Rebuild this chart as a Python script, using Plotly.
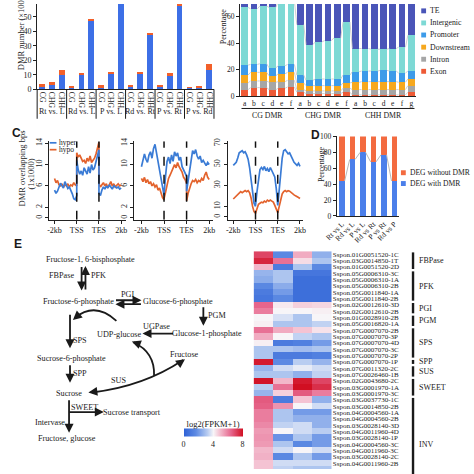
import numpy as np
import plotly.graph_objects as go

W = H = 474
SERIF = "Liberation Serif"
SANS = "Liberation Sans"
INK = "#1a1a1a"

# ---------------- Panel A data ----------------
a_groups = ["Rt vs. L", "Rd vs. L", "P vs. L", "Rd vs. Rt", "P vs. Rt", "P vs. Rd"]
a_contexts = ["CG", "CHG", "CHH"]
a_blue = [1.5, 2.8, 10.0, 1.0, 9.6, 47.4, 1.5, 10.4, 63.0, 2.0, 10.4, 37.4, 2.0, 9.0, 57.5, 1.0, 1.2, 13.6]
a_orange = [1.9, 2.4, 3.4, 1.0, 1.8, 1.2, 1.2, 1.8, 1.0, 1.2, 1.4, 1.6, 1.3, 2.2, 1.5, 0.6, 0.8, 3.8]

# ---------------- Panel B data ----------------
b_groups = ["CG DMR", "CHG DMR", "CHH DMR"]
b_letters = [list("abcdef"), list("abcdef"), list("abcdefg")]
b_exon = [5, 6.5, 6.5, 5, 6, 7, 3, 2, 2, 2, 2, 3, 1, 1, 1, 1, 1, 1, 3]
b_intron = [5, 5, 5, 5.5, 5, 5, 2, 2, 2, 2, 2, 3, 4, 4, 4, 4, 4, 4, 5]
b_downstream = [6, 6.5, 6.5, 5, 6, 6, 5, 4, 4, 4, 4, 4, 5.5, 6, 6, 6, 6, 5.5, 5]
b_promoter = [7.5, 6, 6.5, 6, 6, 6, 6, 4, 5, 5, 5, 6, 8, 8, 8, 8.5, 8, 7, 6]
b_intergenic = [43.5, 42, 43.5, 45.5, 49, 48, 38, 27, 28, 29, 31, 40, 17.5, 17, 16.5, 16, 17, 19.5, 27]
b_te = [33, 34, 32, 33, 28, 28, 46, 61, 59, 58, 56, 44, 64, 64, 64.5, 64.5, 64, 63, 54]
b_names = ["Exon", "Intron", "Downstream", "Promoter", "Intergenic", "TE"]

# ---------------- Panel C data ----------------
c_ticks = ["-2kb", "TSS", "TES", "2kb"]
c1_hyper_up = [5.2, 4.6, 5.0, 5.8, 6.5, 6.0, 5.6, 6.8, 6.2, 5.5, 5.8, 5.2, 4.5, 3.6, 3.4, 4.2]
c1_hyper_body = [10.8, 9.0, 8.2, 8.8, 8.0, 9.4, 8.6, 8.2, 9.6, 8.4, 10.0, 9.0, 9.4, 10.6, 11.8, 12.8]
c1_hyper_down = [4.6, 4.2, 5.2, 5.8, 5.4, 6.0, 5.6, 6.2, 5.8, 5.4, 6.0, 5.8, 5.6, 5.8, 5.4, 5.6]
c1_hypo_up = [7.4, 6.6, 7.0, 6.2, 6.0, 6.4, 5.8, 6.2, 6.0, 6.4, 5.8, 6.2, 6.0, 6.6, 6.2, 6.0]
c1_hypo_body = [12.2, 11.4, 11.8, 11.0, 10.6, 10.8, 10.2, 11.2, 10.6, 11.6, 10.4, 10.8, 11.2, 12.0, 13.4, 14.2]
c1_hypo_down = [6.4, 5.8, 6.2, 6.6, 6.0, 6.4, 5.6, 6.2, 6.8, 6.0, 6.4, 5.8, 6.2, 6.4, 6.0, 6.2]

c2_hyper_up = [9.6, 11.2, 12.0, 11.0, 10.4, 11.8, 12.4, 11.2, 13.0, 13.8, 12.2, 10.4, 8.6, 6.8, 5.2, 4.2]
c2_hyper_body = [4.4, 7.8, 10.6, 11.4, 10.2, 11.8, 10.6, 12.4, 11.6, 12.2, 10.8, 11.4, 9.6, 9.0, 8.4, 7.8]
c2_hyper_down = [5.0, 7.0, 9.6, 11.4, 12.6, 12.0, 12.8, 11.6, 11.0, 11.6, 10.4, 10.8, 10.2, 9.8, 10.4, 10.0]
c2_hypo_up = [7.4, 6.8, 7.6, 6.6, 7.2, 6.4, 6.8, 6.0, 6.4, 5.8, 6.2, 5.2, 5.6, 4.6, 3.8, 3.4]
c2_hypo_body = [3.6, 4.8, 6.2, 7.4, 8.0, 8.8, 9.2, 10.0, 9.4, 10.4, 9.6, 9.0, 8.6, 7.6, 7.2, 6.4]
c2_hypo_down = [3.2, 4.6, 5.6, 6.4, 7.0, 6.8, 7.2, 6.6, 7.0, 6.8, 7.4, 7.0, 8.0, 8.6, 7.6, 7.2]

c3_hyper_up = [49, 50.5, 52, 56, 61, 62, 63, 61, 62, 59, 55, 47, 35, 22, 13, 10]
c3_hyper_body = [11, 24, 38, 45, 47, 45, 48, 44, 46, 43, 47, 44, 42, 38, 27, 13]
c3_hyper_down = [11, 26, 43, 56, 63, 64, 62, 60, 61, 57, 55, 52, 50, 49, 51, 48]
c3_hypo_up = [17, 18.5, 20, 22, 23, 24, 23, 24.5, 25, 24, 25, 23, 18, 10, 5, 3.5]
c3_hypo_body = [3.5, 8, 12, 13, 14, 13.5, 15, 14, 16, 15, 16, 15, 14, 11, 7, 4.5]
c3_hypo_down = [4, 10, 18, 22, 24, 25, 24, 25, 24.5, 23, 22, 21, 20, 19.5, 18.5, 17.5]

# ---------------- Panel D data ----------------
d_labels = ["Rt vs L", "Rd vs L", "P vs L", "Rd vs Rt", "P vs Rt", "Rd vs P"]
d_with = [44, 71, 80, 68, 77, 44]
d_without = [56, 29, 20, 32, 23, 56]

# ---------------- Panel E data ----------------
e_genes = [
    "Sspon.01G0051520-1C", "Sspon.03G0014850-1T", "Sspon.01G0051520-2D",
    "Sspon.05G0006310-3C", "Sspon.05G0006310-1A", "Sspon.05G0006310-2B",
    "Sspon.05G0011840-1A", "Sspon.05G0011840-2B", "Sspon.02G0012610-3D",
    "Sspon.02G0012610-2B", "Sspon.01G0028910-2B", "Sspon.05G0016820-1A",
    "Sspon.07G0007070-2B", "Sspon.07G0007070-3P", "Sspon.07G0007070-4D",
    "Sspon.07G0007070-3C", "Sspon.07G0007070-2P", "Sspon.07G0007070-1P",
    "Sspon.07G0011320-2C", "Sspon.07G0026460-1B", "Sspon.02G0043680-2C",
    "Sspon.03G0001970-1A", "Sspon.03G0001970-3C", "Sspon.03G0037730-1C",
    "Sspon.03G0014850-2B", "Sspon.04G0004560-1A", "Sspon.04G0004560-2B",
    "Sspon.03G0028140-3D", "Sspon.04G0011960-4D", "Sspon.03G0028140-1P",
    "Sspon.04G0004560-3C", "Sspon.04G0011960-3C", "Sspon.03G0028140-2C",
    "Sspon.04G0011960-2B", "Sspon.01G0011110-3B",
]
e_values = [
    [7.0, 1.5, 5.2, 2.5], [7.6, 6.2, 4.4, 3.0], [5.0, 1.0, 3.0, 1.5],
    [2.6, 3.0, 0.8, 0.8], [2.4, 3.0, 0.5, 0.5], [1.5, 2.4, 0.5, 0.5],
    [1.0, 2.0, 0.5, 0.5], [0.8, 1.5, 0.5, 0.5], [6.4, 4.2, 4.6, 4.5],
    [6.0, 4.0, 4.0, 4.1], [4.0, 3.6, 3.0, 4.0], [4.1, 3.0, 3.0, 3.3],
    [6.2, 5.2, 4.8, 4.3], [5.2, 4.0, 3.3, 3.0], [4.1, 1.0, 1.2, 2.0],
    [3.0, 3.0, 2.8, 3.0], [3.0, 1.0, 1.0, 1.2], [7.8, 1.6, 3.2, 2.6],
    [2.6, 3.5, 3.8, 3.5], [3.0, 3.0, 2.5, 3.3], [7.9, 5.0, 7.8, 7.0],
    [3.2, 6.2, 8.0, 7.4], [2.6, 4.6, 6.6, 6.0], [6.6, 1.0, 4.8, 2.5],
    [6.5, 5.6, 4.0, 3.5], [6.0, 3.0, 2.0, 2.0], [6.0, 3.0, 2.5, 2.5],
    [5.8, 3.3, 3.5, 2.5], [5.5, 4.0, 3.5, 3.2], [5.6, 1.8, 3.0, 2.0],
    [5.5, 3.0, 1.5, 2.0], [5.0, 3.5, 4.0, 3.5], [5.1, 1.5, 3.0, 2.0],
    [4.8, 3.5, 3.5, 3.5], [4.8, 3.3, 3.0, 3.0],
]
e_families = [("FBPase", 0, 2), ("PFK", 3, 7), ("PGI", 8, 9), ("PGM", 10, 11),
              ("SPS", 12, 16), ("SPP", 17, 17), ("SUS", 18, 19),
              ("SWEET", 20, 22), ("INV", 23, 37)]

# ---------------- styles ----------------
A_BLUE, A_ORANGE = "#3d6fe6", "#f2602a"
B_COLORS = ["#ee5a36", "#a6a6a6", "#f6a81e", "#3d9be9", "#7dd9d5", "#4a55b8"]
C_BLUE, C_ORANGE = "#3a7bd5", "#e3632d"
D_ORANGE, D_BLUE = "#f36b40", "#4b7fea"


def X(p):
    return p / W


def Y(p):
    return 1 - p / H


fig = go.Figure()

# ---- Panel A ----
a_x = list(range(len(a_blue)))
fig.add_bar(x=a_x, y=a_blue, width=0.58, marker=dict(color=A_BLUE, line_width=0),
            xaxis="x", yaxis="y", name="blue")
fig.add_bar(x=a_x, y=a_orange, width=0.58, marker=dict(color=A_ORANGE, line_width=0),
            xaxis="x", yaxis="y", name="orange")

# ---- Panel B ----
b_x = list(range(len(b_exon)))
b_series = [b_exon, b_intron, b_downstream, b_promoter, b_intergenic, b_te]
for name, vals, col in zip(b_names, b_series, B_COLORS):
    fig.add_bar(x=b_x, y=vals, width=0.74, name=name,
                marker=dict(color=col, line_width=0), xaxis="x2", yaxis="y2")
cum = np.cumsum(np.array(b_series[:5], dtype=float), axis=0)
for lvl in range(cum.shape[0]):
    lx, ly = [], []
    for i in range(len(b_x) - 1):
        lx += [b_x[i] + 0.37, b_x[i + 1] - 0.37, None]
        ly += [cum[lvl, i], cum[lvl, i + 1], None]
    fig.add_scatter(x=lx, y=ly, mode="lines", line=dict(color="#c4c4c4", width=0.8),
                    xaxis="x2", yaxis="y2", hoverinfo="skip")

# ---- Panel C ----
xu = np.linspace(0, 1, 16)
xb = np.linspace(1, 2, 16)
xd = np.linspace(2, 3, 16)
cx = np.concatenate([xu, xb, xd])
c_sets = [
    (c1_hyper_up + c1_hyper_body + c1_hyper_down, c1_hypo_up + c1_hypo_body + c1_hypo_down),
    (c2_hyper_up + c2_hyper_body + c2_hyper_down, c2_hypo_up + c2_hypo_body + c2_hypo_down),
    (c3_hyper_up + c3_hyper_body + c3_hyper_down, c3_hypo_up + c3_hypo_body + c3_hypo_down),
]
for k, (hyper, hypo) in enumerate(c_sets):
    ax_id = str(k + 3)
    fig.add_scatter(x=cx, y=hypo, mode="lines", name="hypo",
                    line=dict(color=C_ORANGE, width=1.7), xaxis="x" + ax_id, yaxis="y" + ax_id)
    fig.add_scatter(x=cx, y=hyper, mode="lines", name="hyper",
                    line=dict(color=C_BLUE, width=1.7), xaxis="x" + ax_id, yaxis="y" + ax_id)

# ---- Panel D ----
d_x = list(range(len(d_labels)))
fig.add_bar(x=d_x, y=d_with, width=0.52, name="DEG with DMR",
            marker=dict(color=D_BLUE, line_width=0), xaxis="x6", yaxis="y6")
fig.add_bar(x=d_x, y=d_without, width=0.52, name="DEG without DMR",
            marker=dict(color=D_ORANGE, line_width=0), xaxis="x6", yaxis="y6")
dlx, dly = [], []
for i in range(len(d_x) - 1):
    dlx += [d_x[i] + 0.26, d_x[i + 1] - 0.26, None]
    dly += [d_with[i], d_with[i + 1], None]
fig.add_scatter(x=dlx, y=dly, mode="lines", line=dict(color="#b8b8b8", width=1),
                xaxis="x6", yaxis="y6", hoverinfo="skip")

# ---- Panel E heatmap ----
E_TOP, ROW_H = 252, 6.45
cs = [[0, "#2f62d6"], [0.2, "#5d8ae3"], [0.4, "#b9cdf1"], [0.5, "#f7f5f8"],
      [0.6, "#f4c3d3"], [0.8, "#e6658c"], [1, "#d10f22"]]
fig.add_heatmap(z=e_values, x=[0, 1, 2, 3], y=list(range(len(e_genes))),
                colorscale=cs, zmin=0, zmax=8, xaxis="x7", yaxis="y7",
                colorbar=dict(orientation="h", x=X(207), xanchor="center", y=Y(436),
                              yanchor="middle", len=59, lenmode="pixels", thickness=8,
                              xpad=0, ypad=0, outlinewidth=0, tickvals=[0, 4, 8],
                              ticks="", tickfont=dict(family=SERIF, size=8, color=INK),
                              title=dict(text="log2(FPKM+1)", side="top",
                                         font=dict(family=SERIF, size=8.5, color=INK))))

# ---------------- axes ----------------
base = dict(showgrid=False, zeroline=False, showline=True, linecolor="#222", linewidth=1,
            tickfont=dict(family=SERIF, size=8, color=INK), ticks="outside",
            ticklen=3, tickcolor="#222", tickwidth=1)


def ax(**kw):
    d = dict(base)
    d.update(kw)
    return d


C_Y = [Y(220), Y(140)]
fig.update_layout(
    xaxis=ax(domain=[X(25), X(208)], anchor="y", range=[-0.5, 17.5], tickvals=a_x,
             ticktext=a_contexts * len(a_groups), tickangle=90, ticks="",
             ticklabelstandoff=0,
             tickfont=dict(family=SERIF, size=7.6, color=INK)),
    yaxis=ax(domain=[Y(87), 1], anchor="x", range=[0, 58.8], tickvals=[0, 10, 20, 30, 40, 50]),
    xaxis2=ax(domain=[X(235), X(417)], anchor="y2", range=[-0.5, 18.5], tickvals=b_x,
              ticktext=sum(b_letters, []), tickangle=0, ticks="",
              tickfont=dict(family=SERIF, size=7.5, color=INK)),
    yaxis2=ax(domain=[Y(94), 1], anchor="x2", range=[0, 69.6], tickvals=[0, 20, 40, 60],
              tickfont=dict(family=SERIF, size=7.5, color=INK)),
    xaxis3=ax(domain=[X(37), X(117)], anchor="y3", range=[-0.26, 3.22], tickvals=[0, 1, 2, 3], ticktext=c_ticks),
    yaxis3=ax(domain=C_Y, anchor="x3", range=[-0.37, 14.36], tickvals=[0, 2, 6, 10, 14], tickangle=-90),
    xaxis4=ax(domain=[X(125), X(207)], anchor="y4", range=[-0.34, 3.17], tickvals=[0, 1, 2, 3], ticktext=c_ticks),
    yaxis4=ax(domain=C_Y, anchor="x4", range=[-0.37, 14.36], tickvals=[0, 2, 6, 10, 14], tickangle=-90),
    xaxis5=ax(domain=[X(222), X(300)], anchor="y5", range=[-0.26, 3.13], tickvals=[0, 1, 2, 3], ticktext=c_ticks),
    yaxis5=ax(domain=C_Y, anchor="x5", range=[-2.8, 71.9], tickvals=[0, 10, 30, 50, 70], tickangle=-90),
    xaxis6=ax(domain=[X(335), X(400)], anchor="y6", range=[-0.5, 5.5], tickvals=d_x,
              ticktext=d_labels, tickangle=-45, ticks="",
              tickfont=dict(family=SERIF, size=7.5, color=INK)),
    yaxis6=ax(domain=[Y(216), Y(135)], anchor="x6", range=[0, 100],
              tickvals=[0, 20, 40, 60, 80, 100], tickfont=dict(family=SERIF, size=7.5, color=INK)),
    xaxis7=dict(domain=[X(249), X(330)], anchor="y7", range=[-0.5, 3.5], showticklabels=False,
                showline=False, showgrid=False, zeroline=False, ticks=""),
    yaxis7=dict(domain=[0, Y(E_TOP)], anchor="x7", side="right",
                range=[(H - E_TOP) / ROW_H - 0.5, -0.5],
                tickvals=list(range(len(e_genes))), ticktext=e_genes, ticks="",
                showline=False, showgrid=False, zeroline=False,
                tickfont=dict(family=SERIF, size=7.0, color=INK)),
)

# ---------------- shapes & annotations ----------------
shapes, annos = [], []


def txt(x, y, s, size=8, anchor="center", angle=0, family=SERIF, bold=False, color=INK):
    annos.append(dict(x=X(x), y=Y(y), xref="paper", yref="paper", text=("<b>%s</b>" % s if bold else s),
                      showarrow=False, xanchor=anchor, yanchor="middle", textangle=angle,
                      font=dict(family=family, size=size, color=color)))


def arrow(hx, hy, tx, ty, w=1.8):
    annos.append(dict(x=X(hx), y=Y(hy), xref="paper", yref="paper", text="",
                      showarrow=True, axref="pixel", ayref="pixel", ax=tx - hx, ay=ty - hy,
                      arrowhead=2, arrowsize=1, arrowwidth=w, arrowcolor=INK,
                      standoff=0, startstandoff=0))


def line(x0, y0, x1, y1, color=INK, width=1, dash=None):
    shapes.append(dict(type="line", xref="paper", yref="paper", x0=X(x0), y0=Y(y0),
                       x1=X(x1), y1=Y(y1), line=dict(color=color, width=width, dash=dash)))


def curve(x0, y0, cxp, cyp, x1, y1, width=1.8):
    shapes.append(dict(type="path", xref="paper", yref="paper",
                       path="M %f,%f Q %f,%f %f,%f" % (X(x0), Y(y0), X(cxp), Y(cyp), X(x1), Y(y1)),
                       line=dict(color=INK, width=width)))


# Panel A: group labels & separators
A_L, A_R = 25, 208
a_step = (A_R - A_L) / len(a_blue)
for g, name in enumerate(a_groups):
    n = len(a_contexts)
    txt(A_L + (g * n + n / 2) * a_step, 110, name, size=8)
for g in range(len(a_groups) + 1):
    xs = A_L + g * len(a_contexts) * a_step
    line(xs, 87, xs, 117, width=1)
txt(9, 28, "DMR number (×1000)", size=8.5, angle=-90)

# Panel B: group labels, group lines, legend
B_L, B_R = 235, 417
b_step = (B_R - B_L) / len(b_x)
start = 0
for name, lets in zip(b_groups, b_letters):
    n = len(lets)
    txt(B_L + (start + n / 2) * b_step, 113.5, name, size=7.8)
    line(B_L + start * b_step + 1.5, 106.5, B_L + (start + n) * b_step - 1.5, 106.5, width=1)
    start += n
txt(218, 23, "Percentage", size=8, angle=-90)
leg_y = [7, 19.3, 31.6, 44, 56.3, 68.6]
for (name, col), yy in zip(list(zip(b_names, B_COLORS))[::-1], leg_y):
    shapes.append(dict(type="rect", xref="paper", yref="paper", x0=X(422.5), x1=X(427.5),
                       y0=Y(yy + 2.5), y1=Y(yy - 2.5), fillcolor=col, line_width=0))
    txt(430, yy, name, size=7.8, anchor="left")

# Panel C: dashed lines, legend, titles
c_ranges = [(-0.37, 14.36), (-0.37, 14.36), (-2.8, 71.9)]
for k, (y0, y1) in enumerate(c_ranges):
    for xv in (1, 2):
        shapes.append(dict(type="line", xref="x%d" % (k + 3), yref="y%d" % (k + 3),
                           x0=xv, x1=xv, y0=y0, y1=y1,
                           line=dict(color="#111", width=1.5, dash="dash")))
line(38, 141.5, 45, 141.5, color=C_BLUE, width=1.7)
line(38, 148.5, 45, 148.5, color=C_ORANGE, width=1.7)
txt(45.5, 141, "hyper", size=7.5, anchor="left")
txt(45.5, 148, "hypo", size=7.5, anchor="left")
txt(9, 168, "DMR overlapping bps", size=8.5, angle=-90)
txt(18.5, 173, "(1x1000)", size=8.5, angle=-90)

# Panel D legend & title
txt(320, 163, "Percentage", size=8, angle=-90)
for name, col, yy in [("DEG without DMR", D_ORANGE, 172), ("DEG with DMR", D_BLUE, 183)]:
    shapes.append(dict(type="rect", xref="paper", yref="paper", x0=X(401.5), x1=X(406.5),
                       y0=Y(yy + 2.5), y1=Y(yy - 2.5), fillcolor=col, line_width=0))
    txt(408.5, yy, name, size=7.6, anchor="left")

# Panel letters
txt(4, 132, "C", size=12, family=SANS, bold=True)
txt(313, 134, "D", size=12, family=SANS, bold=True)
txt(5, 245, "E", size=12, family=SANS, bold=True)

# Panel E: family brackets
for name, r0, r1 in e_families:
    y0 = E_TOP + r0 * ROW_H + 1.2
    y1 = E_TOP + (r1 + 1) * ROW_H - 1.2
    line(414, y0, 414, y1, width=2.4)
    txt(418, (y0 + y1) / 2, name, size=8, anchor="left")

# Panel E: pathway diagram
for s, x, y in [
    ("Fructose-1, 6-bisphosphate", 80, 260), ("FBPase", 50, 277), ("PFK", 89, 277),
    ("Fructose-6-phosphate", 68, 303), ("PGI", 118, 296), ("Glucose-6-phosphate", 171, 303),
    ("PGM", 211, 318), ("UGPase", 149, 329), ("Glucose-1-phosphate", 201, 336),
    ("UDP-glucose", 110, 337), ("SPS", 69, 343), ("Sucrose-6-phosphate", 61, 361),
    ("SPP", 69, 377), ("Fructose", 178, 357), ("SUS", 109, 384), ("Sucrose", 58, 397),
    ("SWEET", 74, 411.5), ("Sucrose transport", 123, 416), ("Intervase", 38, 427),
    ("Fructose, glucose", 56, 443),
]:
    txt(x, y, s, size=8.2)

arrow(71, 292, 71, 267)
arrow(75, 267, 75, 292)
arrow(133, 302, 106, 302)
arrow(106, 306, 133, 306)
arrow(197, 328, 197, 308)
arrow(134, 336, 166, 336)
arrow(59, 351, 59, 316)
arrow(59, 386, 59, 367)
arrow(58, 437, 58, 403)
arrow(94, 416, 58, 416)
curve(107, 323, 85, 303, 64, 320)
arrow(62, 322, 69, 316)
curve(82, 396, 135, 390, 176, 363)
arrow(78, 396, 86, 395)
arrow(178, 362, 171, 367)
curve(146, 379, 147, 355, 125, 345)
arrow(123, 344, 131, 347)

fig.update_layout(
    width=W, height=H, margin=dict(l=0, r=0, t=0, b=0),
    paper_bgcolor="white", plot_bgcolor="white",
    barmode="stack", showlegend=False,
    font=dict(family=SERIF, size=8, color=INK),
    shapes=shapes, annotations=annos,
)

fig.write_html("out.html")
